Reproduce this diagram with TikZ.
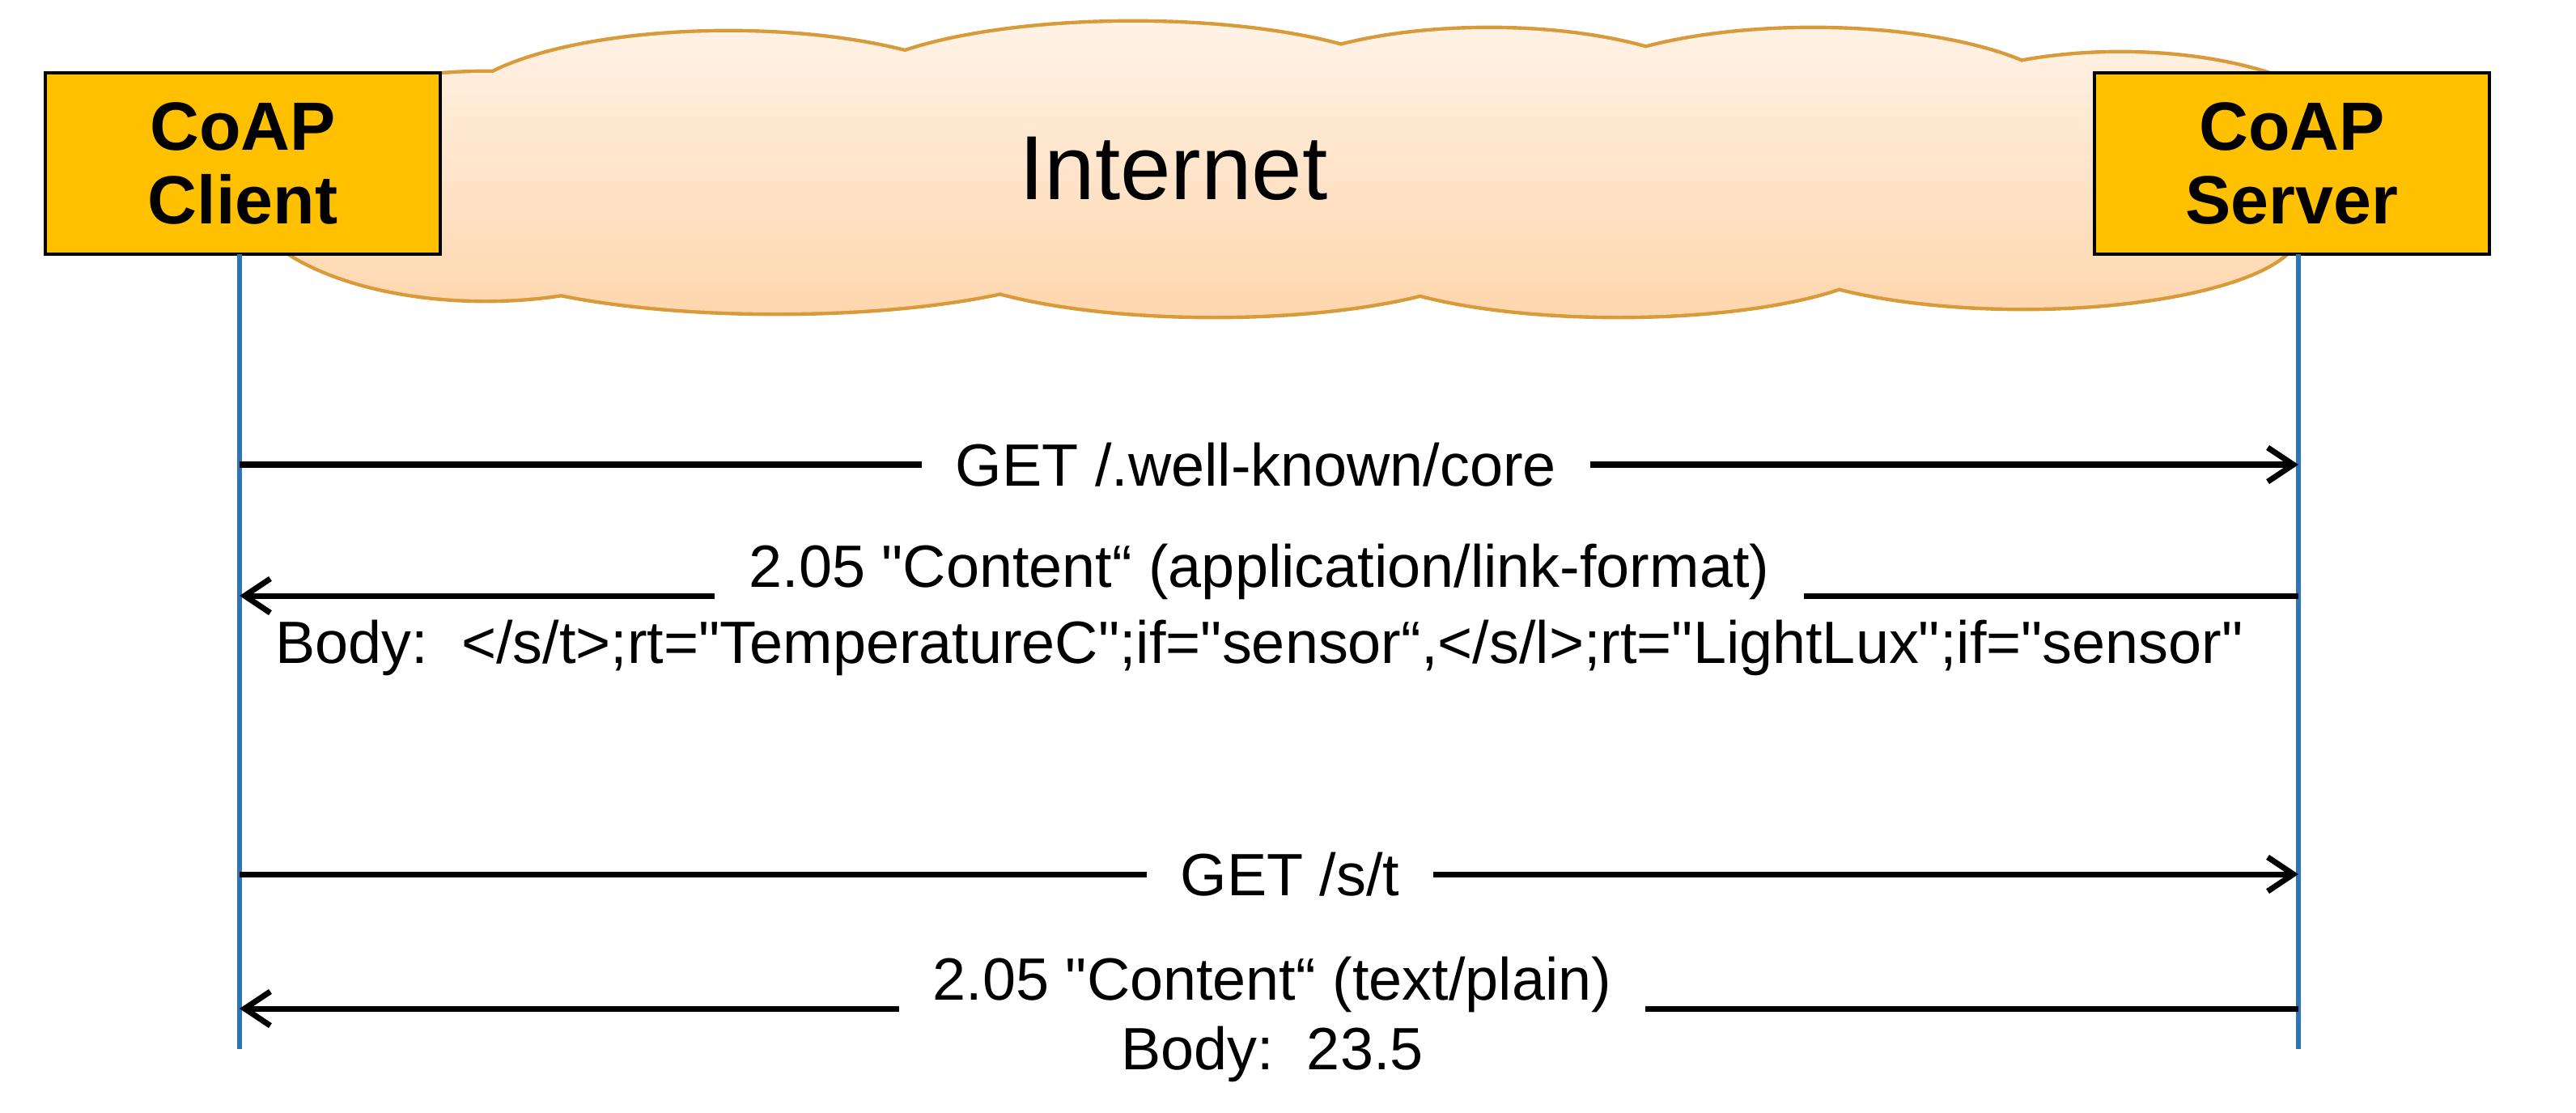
\documentclass[tikz,border=0pt]{standalone}
\usepackage{fontspec}
\defaultfontfeatures[\rmfamily,\sffamily]{}
\setmainfont{Liberation Sans}
\usetikzlibrary{arrows.meta}
\definecolor{boxor}{HTML}{FFC000}
\definecolor{cloudline}{HTML}{D99A3A}
\definecolor{life}{HTML}{2E75B6}
\newcommand{\dq}{\char34\relax}
\tikzset{
  actor/.style={draw=black,line width=1.2pt,fill=boxor,minimum width=4.88cm,minimum height=2.24cm,align=center,font=\bfseries\fontsize{24}{26}\selectfont},
  lifeline/.style={life,line width=1.5pt},
  msg/.style={-{Straight Barb[length=9pt,width=12pt,line width=2pt]},line width=2pt},
  lbl/.style={fill=white,inner sep=3pt,font=\fontsize{21}{24}\selectfont,align=center},
}
\begin{document}
\begin{tikzpicture}[x=0.02cm,y=-0.02cm]
\useasboundingbox (0,0) rectangle (1591.5,687);
\def\cloudpath{(300,115) ellipse (150 and 70) (450,72) ellipse (170 and 52) (700,62) ellipse (180 and 48) (920,68) ellipse (150 and 50) (1120,68) ellipse (160 and 50) (1310,95) ellipse (150 and 62) (1250,142) ellipse (170 and 48) (1000,152) ellipse (170 and 43) (750,150) ellipse (180 and 45) (480,148) ellipse (200 and 45) (740,108) ellipse (560 and 60)}
\draw[cloudline,line width=2.5pt] \cloudpath;
\begin{scope}
\clip \cloudpath;
\shade[top color=orange!8,bottom color=orange!35] (100,0) rectangle (1500,220);
\end{scope}
\node[font=\fontsize{32}{36}\selectfont] (inet) at (725,104) {Internet};
\node[actor] (cl) at (150,101) {CoAP\\Client};
\node[actor] (sv) at (1416,101) {CoAP\\Server};
\coordinate (cb) at (148,648);
\coordinate (sb) at (1420,648);
\draw[lifeline] (148,157) -- (cb);
\draw[lifeline] (1420,157) -- (sb);
\coordinate (c1) at (148,287); \coordinate (s1) at (1420,287);
\coordinate (c2) at (148,368); \coordinate (s2) at (1420,368);
\coordinate (c3) at (148,540); \coordinate (s3) at (1420,540);
\coordinate (c4) at (148,623); \coordinate (s4) at (1420,623);
\draw[msg] (c1) -- (s1);
\draw[msg] (s2) -- (c2);
\draw[msg] (c3) -- (s3);
\draw[msg] (s4) -- (c4);
\node[lbl,inner xsep=12pt] (m1) at (776,287) {GET /.well-known/core};
\node[lbl,inner xsep=12pt] (m2) at (778,353) {2.05 \dq Content“ (application/link-format)};
\node[lbl,inner sep=1pt] (m2b) at (778,400) {Body:\ \ </s/t>;rt=\dq TemperatureC\dq;if=\dq sensor“,</s/l>;rt=\dq LightLux\dq;if=\dq sensor\dq};
\node[lbl,inner xsep=12pt] (m3) at (797,540) {GET /s/t};
\node[lbl,inner xsep=12pt] (m4) at (786,608) {2.05 \dq Content“ (text/plain)};
\node[lbl,inner sep=1pt] (m4b) at (786,651) {Body:\ \ 23.5};
\end{tikzpicture}
\end{document}
